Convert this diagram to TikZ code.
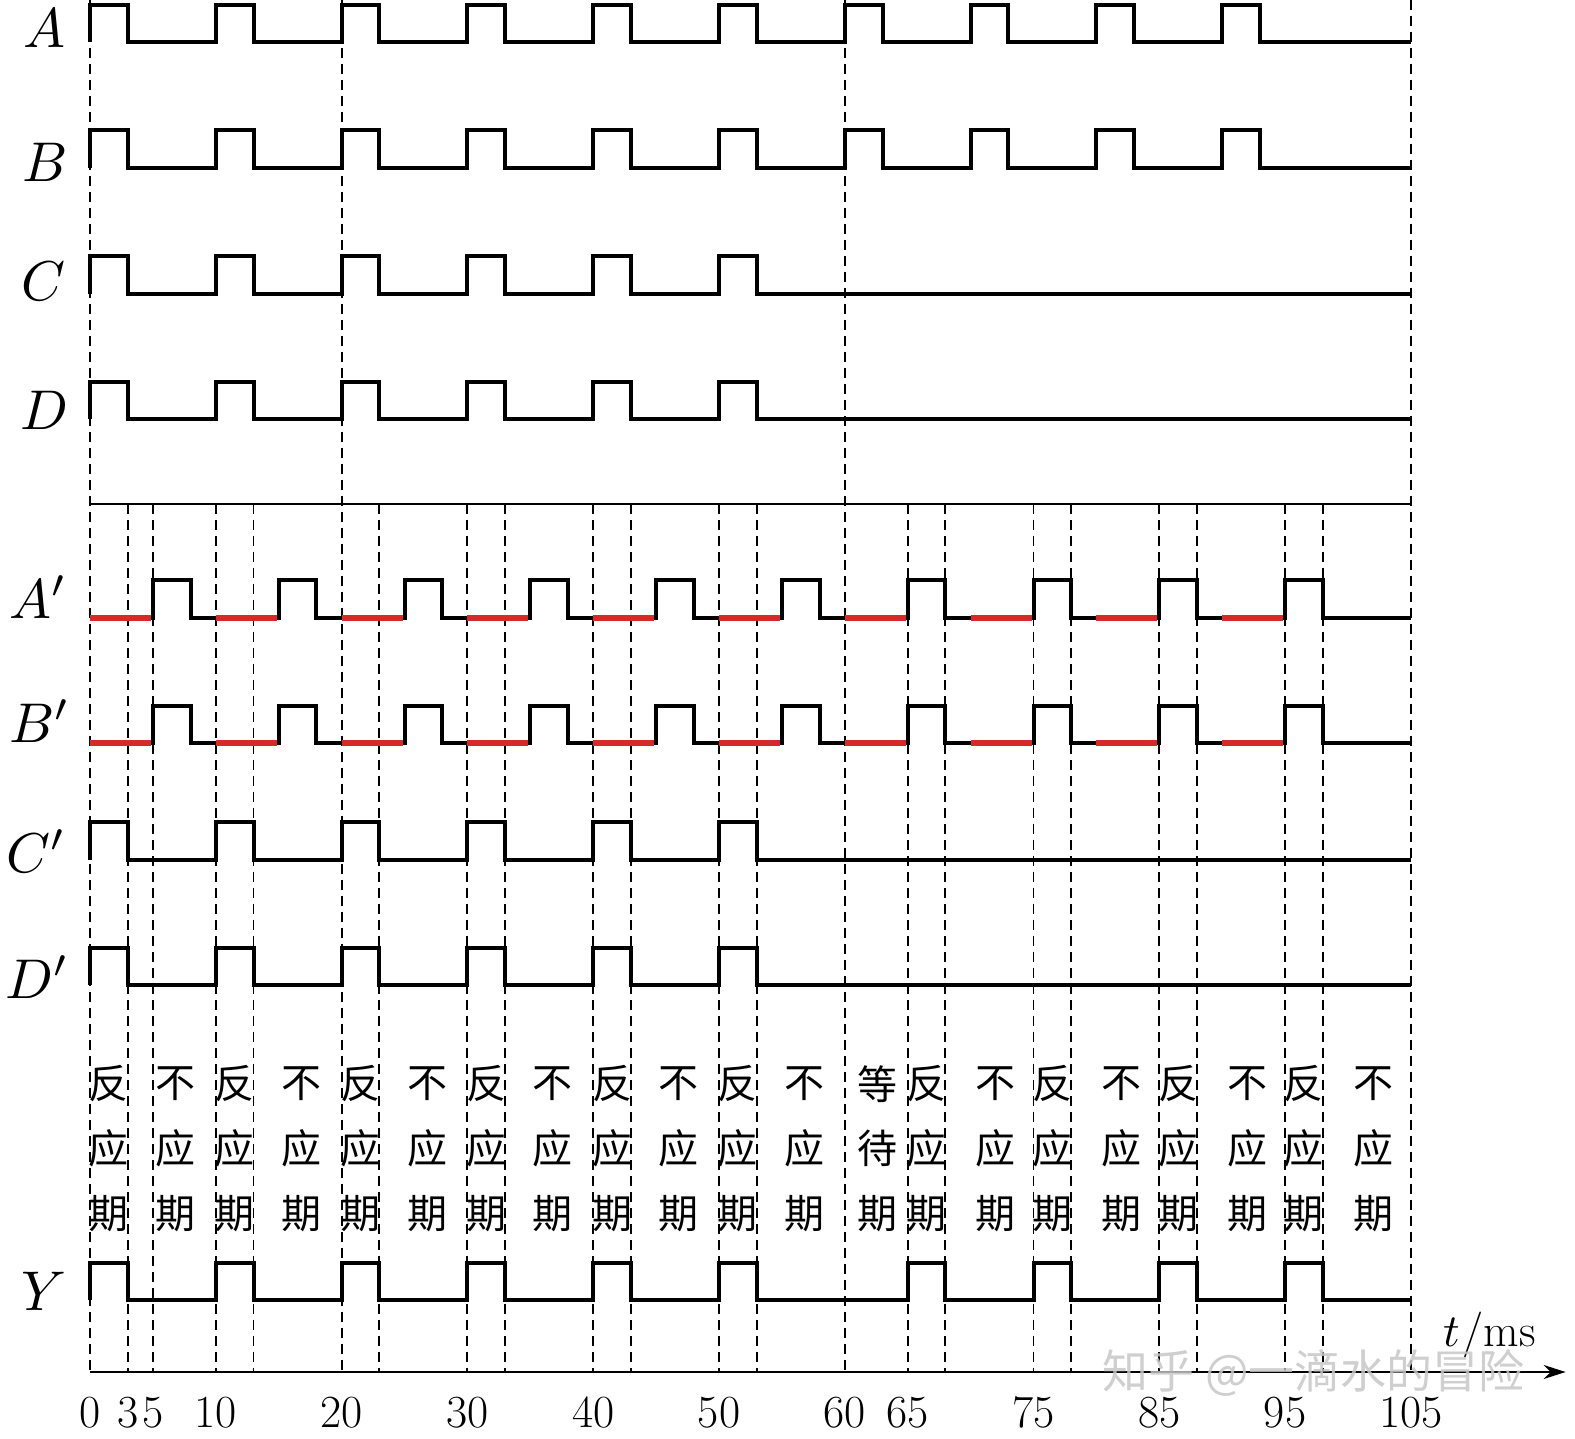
\documentclass[tikz,border=0pt]{standalone}
\usepackage{fontspec}
\newfontfamily\cjkfont{Noto Sans CJK SC}
\usetikzlibrary{arrows.meta}
\definecolor{wavered}{RGB}{212,42,42}
\newcommand\wavetrain[3]{%
  \draw[wave] (0,#2) \foreach \t in {#3}{ -- (\t,#2) -- (\t,#1) -- (\t+3,#1) -- (\t+3,#2)} -- (105,#2);}
\newcommand\biglabel[1]{{\normalsize\scalebox{5.6}{$#1$}}}
\begin{document}
\begin{tikzpicture}[x=12.58pt,y=-1pt,
  wave/.style={line width=4pt, line join=miter, line cap=butt},
  redseg/.style={line width=6.5pt, draw=wavered, line cap=butt},
  guide/.style={line width=1.9pt, dash pattern=on 10pt off 6pt},
  sig/.style={inner sep=0pt, anchor=base},
  hanzi/.style={font=\cjkfont\fontsize{40}{40}\selectfont, inner sep=0pt},
  num/.style={font=\fontsize{46}{50}\selectfont, inner sep=0pt, anchor=base}]
\useasboundingbox (-7.1542,0) rectangle (118.045,1439);

% dashed guide lines
\foreach \t in {0,20,60,105} \draw[guide] (\t,0) -- (\t,1372);
\foreach \t in {3,5,10,13,23,30,33,40,43,50,53,65,68,75,78,85,88,95,98}
  \draw[guide] (\t,504) -- (\t,1372);

% separator
\draw[line width=2pt] (0,504) -- (105,504);

% input waveforms
\wavetrain{5}{42}{0,10,...,90}
\wavetrain{130}{168}{0,10,...,90}
\wavetrain{256}{294}{0,10,...,50}
\wavetrain{382}{419}{0,10,...,50}

% primed waveforms
\wavetrain{580}{618}{5,15,...,95}
\foreach \t in {0,10,...,90} \draw[redseg, shorten >=2pt] (\t,618) -- (\t+5,618);
\wavetrain{706}{743}{5,15,...,95}
\foreach \t in {0,10,...,90} \draw[redseg, shorten >=2pt] (\t,743) -- (\t+5,743);
\wavetrain{822}{860}{0,10,...,50}
\wavetrain{948}{985}{0,10,...,50}

% output
\wavetrain{1263}{1300}{0,10,20,30,40,50,65,75,85,95}

% signal labels
\node[sig] (lA) at (-3.617,48) {\biglabel{A}};
\node[sig] (lB) at (-3.577,182) {\biglabel{B}};
\node[sig] (lC) at (-3.657,301) {\biglabel{C}};
\node[sig] (lD) at (-3.657,429) {\biglabel{D}};
\node[sig] (lAp) at (-4.134,618) {\biglabel{A'}};
\node[sig] (lBp) at (-3.975,742) {\biglabel{B'}};
\node[sig] (lCp) at (-4.293,872) {\biglabel{C'}};
\node[sig] (lDp) at (-4.213,998) {\biglabel{D'}};
\node[sig] (lY) at (-3.657,1310) {\biglabel{Y}};

% period texts
\foreach \x [count=\i] in {1.5,11.5,21.5,31.5,41.5,51.5,66.5,76.5,86.5,96.5} {
  \node[hanzi] (fa\i) at (\x,1084) {反};
  \node[hanzi] (fb\i) at (\x,1148) {应};
  \node[hanzi] (fc\i) at (\x,1214) {期};
}
\foreach \x [count=\i] in {6.8,16.8,26.8,36.8,46.8,56.8,72,82,92,102} {
  \node[hanzi] (ba\i) at (\x,1084) {不};
  \node[hanzi] (bb\i) at (\x,1148) {应};
  \node[hanzi] (bc\i) at (\x,1214) {期};
}
\node[hanzi] (wa) at (62.6,1084) {等};
\node[hanzi] (wb) at (62.6,1148) {待};
\node[hanzi] (wc) at (62.6,1214) {期};

% time axis
\coordinate (origin) at (0,1372);
\coordinate (axisend) at (117.3,1372);
\draw[line width=2pt, -{Stealth[length=22pt,width=14pt]}] (origin) -- (axisend);
\foreach \t in {0,3,5,10,20,30,40,50,60,65,75,85,95,105}
  \node[num] (n\t) at (\t,1427) {\t};
\node[num, anchor=base west, text depth=0pt] (unit) at (107.55,1346) {{\normalsize\scalebox{4.6}{$t$}}\hspace{3pt}/ms};

% watermark
\node[font=\cjkfont\fontsize{46}{46}\selectfont, text=black!22, text opacity=0.85,
  anchor=west, inner sep=0pt] (wm) at (80.5,1373) {知乎 @一滴水的冒险};
\end{tikzpicture}
\end{document}
